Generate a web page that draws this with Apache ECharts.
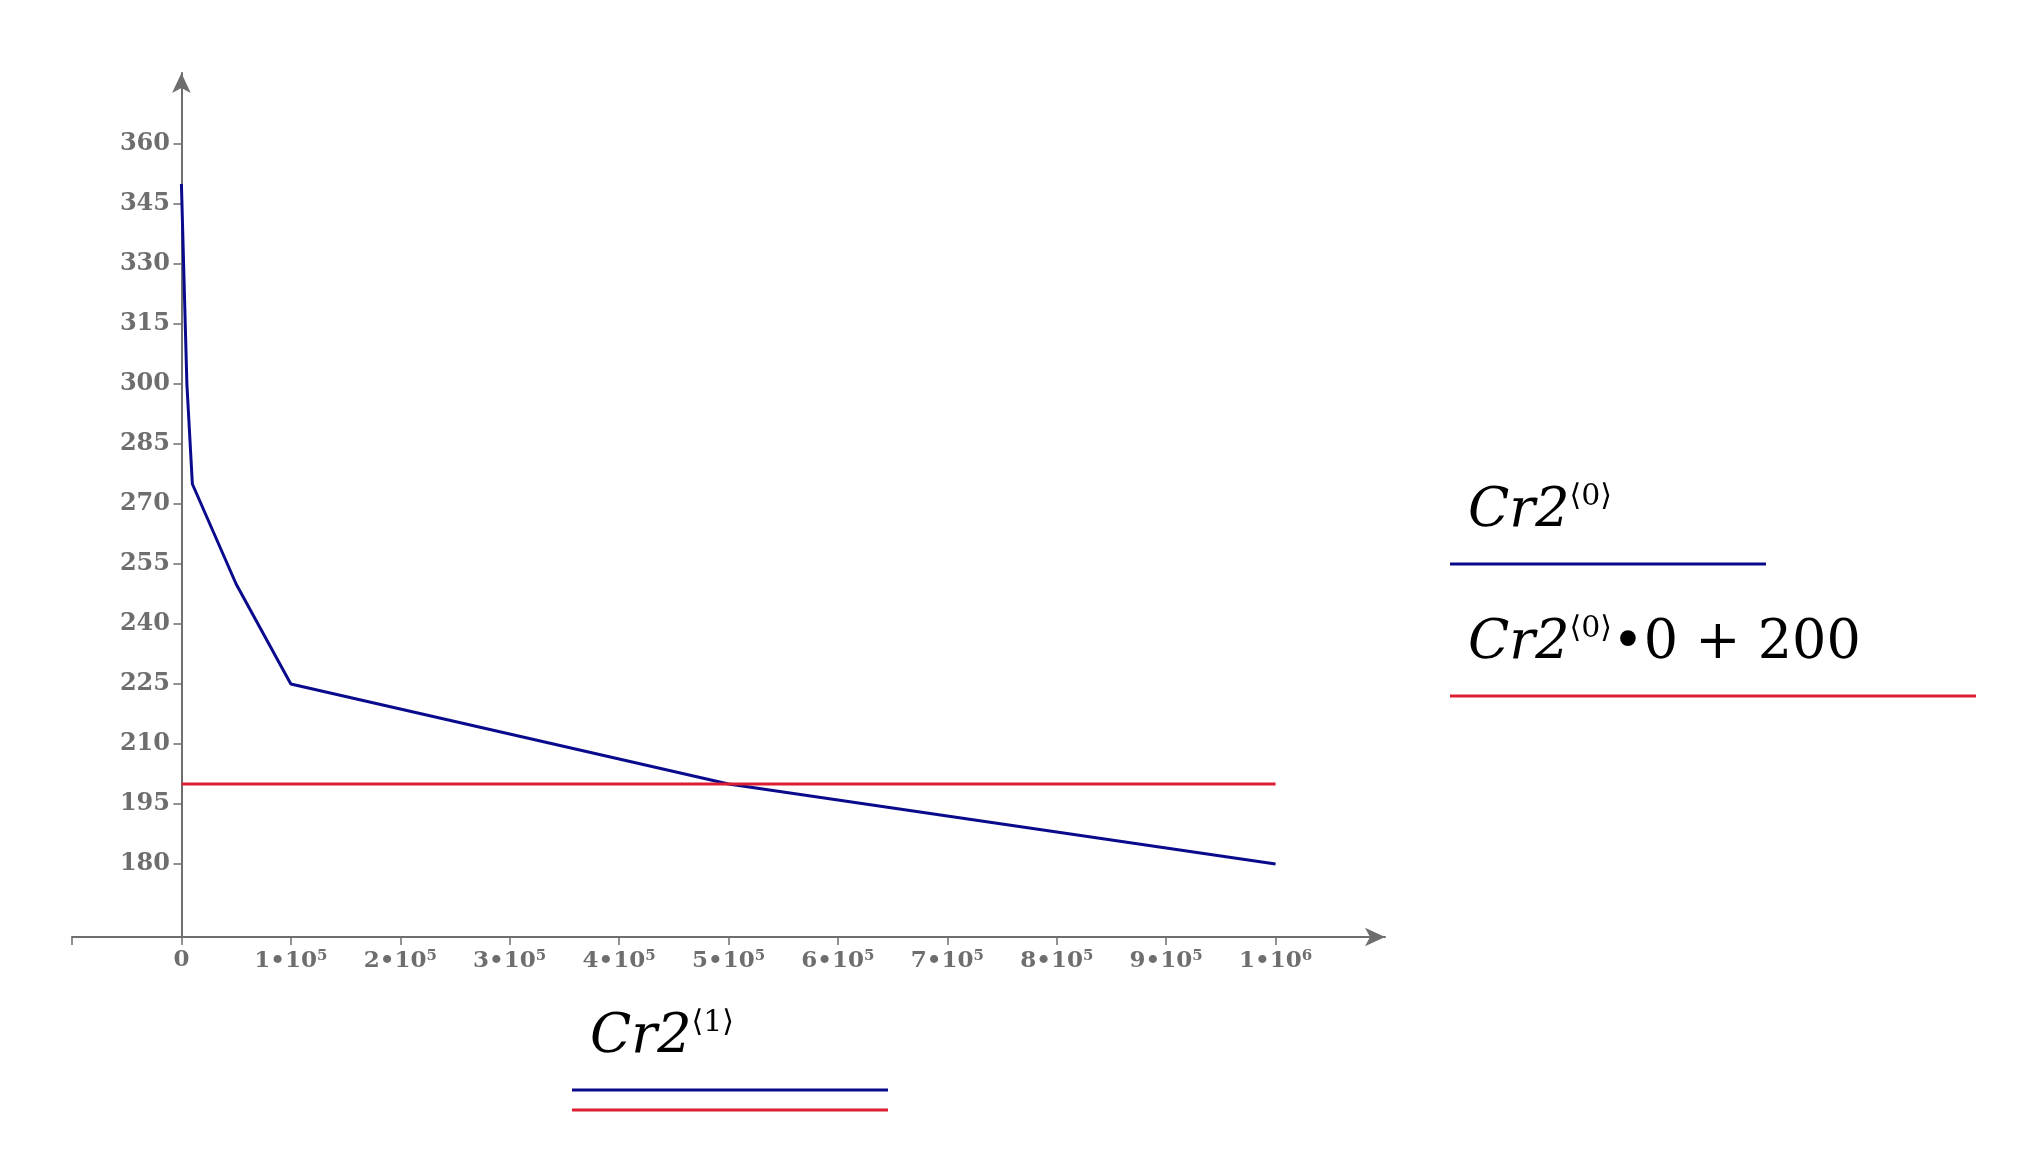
<!DOCTYPE html>
<html>
<head>
<meta charset="utf-8">
<script src="https://cdn.jsdelivr.net/npm/echarts@6/dist/echarts.min.js"></script>
<style>html,body{margin:0;padding:0;background:#fff}#chart{width:2029px;height:1152px}</style>
</head>
<body>
<div id="chart"></div>
<script>
// data
const blueX = [0, 5000, 10000, 50000, 100000, 500000, 1000000];
const blueY = [350, 300, 275, 250, 225, 200, 180];
const redX = [0, 1000000];
const redY = [200, 200];
const xTicks = [-100000, 0, 100000, 200000, 300000, 400000, 500000, 600000, 700000, 800000, 900000, 1000000];
const yTicks = [180, 195, 210, 225, 240, 255, 270, 285, 300, 315, 330, 345, 360];

const serif = '"DejaVu Serif", "Liberation Serif", serif';
let chart = echarts.init(document.getElementById('chart'));

function xLabel(v) {
  if (v === 0) return '{n|0}';
  if (v === 1000000) return '{n|1•10}{s|6}';
  return '{n|' + (v / 100000) + '•10}{s|5}';
}

chart.setOption({
  animation: false,
  grid: {left: 72, right: 644, top: 73, bottom: 215},
  xAxis: {
    type: 'value', min: -100000, max: 1100000,
    splitLine: {show: false},
    axisLine: {lineStyle: {color: '#6e6e6e', width: 2}, symbol: ['none', 'arrow'], symbolSize: [14, 20]},
    axisTick: {customValues: xTicks, length: 8, lineStyle: {color: '#6e6e6e', width: 1.5}},
    axisLabel: {
      customValues: xTicks.filter(v => v >= 0), margin: 12,
      formatter: xLabel,
      rich: {
        n: {fontFamily: serif, fontSize: 23, fontWeight: 'bold', color: '#6e6e6e'},
        s: {fontFamily: serif, fontSize: 15, fontWeight: 'bold', color: '#6e6e6e', verticalAlign: 'top', padding: [0, 0, 10, 0]}
      }
    }
  },
  yAxis: {
    type: 'value', min: 161.75, max: 377.75,
    splitLine: {show: false},
    axisLine: {onZero: true, lineStyle: {color: '#6e6e6e', width: 2}, symbol: ['none', 'arrow'], symbolSize: [14, 20]},
    axisTick: {customValues: yTicks, length: 8, lineStyle: {color: '#6e6e6e', width: 1.5}},
    axisLabel: {customValues: yTicks, fontFamily: serif, fontSize: 24, fontWeight: 'bold', color: '#6e6e6e', margin: -98}
  },
  series: [
    {type: 'line', data: blueX.map((x, i) => [x, blueY[i]]), symbol: 'none', lineStyle: {color: '#0a0a8c', width: 3}},
    {type: 'line', data: redX.map((x, i) => [x, redY[i]]), symbol: 'none', lineStyle: {color: '#dc1e32', width: 3}}
  ],
  graphic: [
    {type: 'text', left: 1468, top: 482, style: {text: '{i|Cr2}{s|⟨0⟩}', rich: {
      i: {fontFamily: serif, fontStyle: 'italic', fontSize: 54, fill: '#000'},
      s: {fontFamily: serif, fontSize: 30, fill: '#000', verticalAlign: 'top', padding: [0, 0, 30, 0]}}}},
    {type: 'line', shape: {x1: 1450, y1: 564, x2: 1766, y2: 564}, style: {stroke: '#0a0a8c', lineWidth: 3}},
    {type: 'text', left: 1468, top: 614, style: {text: '{i|Cr2}{s|⟨0⟩}{n|•0 + 200}', rich: {
      i: {fontFamily: serif, fontStyle: 'italic', fontSize: 54, fill: '#000'},
      n: {fontFamily: serif, fontSize: 54, fill: '#000'},
      s: {fontFamily: serif, fontSize: 30, fill: '#000', verticalAlign: 'top', padding: [0, 0, 30, 0]}}}},
    {type: 'line', shape: {x1: 1450, y1: 696, x2: 1976, y2: 696}, style: {stroke: '#dc1e32', lineWidth: 3}},
    {type: 'text', left: 590, top: 1008, style: {text: '{i|Cr2}{s|⟨1⟩}', rich: {
      i: {fontFamily: serif, fontStyle: 'italic', fontSize: 54, fill: '#000'},
      s: {fontFamily: serif, fontSize: 30, fill: '#000', verticalAlign: 'top', padding: [0, 0, 30, 0]}}}},
    {type: 'line', shape: {x1: 572, y1: 1090, x2: 888, y2: 1090}, style: {stroke: '#0a0a8c', lineWidth: 3}},
    {type: 'line', shape: {x1: 572, y1: 1110, x2: 888, y2: 1110}, style: {stroke: '#dc1e32', lineWidth: 3}}
  ]
});
</script>
</body>
</html>
